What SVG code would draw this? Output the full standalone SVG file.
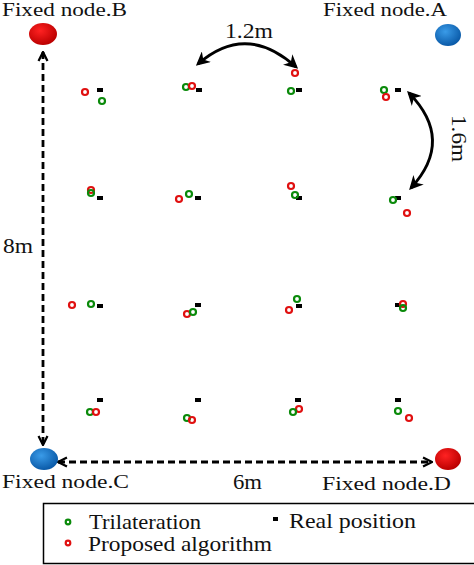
<svg xmlns="http://www.w3.org/2000/svg" width="474" height="565" viewBox="0 0 474 565">
<defs>
<radialGradient id="gr" cx="40%" cy="35%" r="65%"><stop offset="0" stop-color="#f22"/><stop offset="1" stop-color="#b00"/></radialGradient>
<radialGradient id="gb" cx="40%" cy="35%" r="65%"><stop offset="0" stop-color="#3a9be8"/><stop offset="1" stop-color="#0a5aa8"/></radialGradient>
<marker id="ah" viewBox="0 0 10 10" refX="9" refY="5" markerWidth="4" markerHeight="4" orient="auto-start-reverse" markerUnits="strokeWidth"><path d="M1,1 L9,5 L1,9" fill="none" stroke="#000" stroke-width="2"/></marker>
<marker id="ch" viewBox="0 0 10 10" refX="8" refY="5" markerWidth="5" markerHeight="5" orient="auto-start-reverse" markerUnits="strokeWidth"><path d="M0,0 L10,5 L0,10 L3,5 Z" fill="#000"/></marker>
</defs>
<style>
text{font-family:"Liberation Serif","Times New Roman",serif;font-size:18px;fill:#111}
.lg{font-size:21px}
.dim{font-size:21px}
.g{fill:none;stroke:#0a8a0a;stroke-width:2.2}
.r{fill:none;stroke:#e01010;stroke-width:2.2}
.k{fill:#000}
.dash{fill:none;stroke:#000;stroke-width:2.8;stroke-dasharray:7,4}
.curve{fill:none;stroke:#000;stroke-width:2.8}
</style>
<rect width="474" height="565" fill="#fff"/>
<g id="connectors">
<line class="dash" x1="43" y1="52" x2="43" y2="445" marker-start="url(#ah)" marker-end="url(#ah)"/>
<line class="dash" x1="58" y1="462" x2="432" y2="462" marker-start="url(#ah)" marker-end="url(#ah)"/>
<path class="curve" d="M198,64 Q246,22 296,67" marker-start="url(#ch)" marker-end="url(#ch)"/>
<path class="curve" d="M409,93 Q455,140 411,188" marker-start="url(#ch)" marker-end="url(#ch)"/>
</g>
<g id="nodeB"><ellipse cx="43" cy="34" rx="14" ry="11" fill="url(#gr)"/><text x="2" y="16" textLength="125" lengthAdjust="spacingAndGlyphs">Fixed node.B</text></g>
<g id="nodeA"><ellipse cx="448" cy="35" rx="13" ry="11" fill="url(#gb)"/><text x="323" y="16" textLength="124" lengthAdjust="spacingAndGlyphs">Fixed node.A</text></g>
<g id="nodeC"><ellipse cx="44" cy="459" rx="14" ry="11" fill="url(#gb)"/><text x="2" y="488" textLength="127" lengthAdjust="spacingAndGlyphs">Fixed node.C</text></g>
<g id="nodeD"><ellipse cx="448" cy="459" rx="13" ry="11" fill="url(#gr)"/><text x="322" y="490" textLength="129" lengthAdjust="spacingAndGlyphs">Fixed node.D</text></g>
<g id="labels">
<text class="dim" x="225" y="38" textLength="48" lengthAdjust="spacingAndGlyphs">1.2m</text>
<text class="dim" x="3" y="253" textLength="30" lengthAdjust="spacingAndGlyphs">8m</text>
<text class="dim" x="233" y="489" textLength="29" lengthAdjust="spacingAndGlyphs">6m</text>
<text class="dim" transform="translate(452,115) rotate(90)" textLength="47" lengthAdjust="spacingAndGlyphs">1.6m</text>
</g>
<g id="points">
<rect class="k" x="97" y="88" width="6" height="4"/><rect class="k" x="196" y="88" width="6" height="4"/><rect class="k" x="296" y="88" width="6" height="4"/><rect class="k" x="395" y="88" width="6" height="4"/>
<rect class="k" x="97" y="196" width="6" height="4"/><rect class="k" x="195" y="196" width="6" height="4"/><rect class="k" x="296" y="196" width="6" height="4"/><rect class="k" x="395" y="196" width="6" height="4"/>
<rect class="k" x="97" y="304" width="6" height="4"/><rect class="k" x="195" y="303" width="6" height="4"/><rect class="k" x="296" y="304" width="6" height="4"/><rect class="k" x="395" y="303" width="6" height="4"/>
<rect class="k" x="97" y="398" width="6" height="4"/><rect class="k" x="195" y="398" width="6" height="4"/><rect class="k" x="295" y="398" width="6" height="4"/><rect class="k" x="395" y="398" width="6" height="4"/>
<circle class="r" cx="85" cy="92" r="3"/><circle class="g" cx="102" cy="101" r="3"/>
<circle class="g" cx="186" cy="87" r="3"/><circle class="r" cx="192" cy="86" r="3"/>
<circle class="r" cx="295" cy="73" r="3"/><circle class="g" cx="291" cy="91" r="3"/>
<circle class="g" cx="384" cy="90" r="3"/><circle class="r" cx="386" cy="97" r="3"/>
<circle class="r" cx="91" cy="190" r="3"/><circle class="g" cx="91" cy="193" r="3"/>
<circle class="r" cx="179" cy="199" r="3"/><circle class="g" cx="189" cy="194" r="3"/>
<circle class="r" cx="291" cy="186" r="3"/><circle class="g" cx="295" cy="195" r="3"/>
<circle class="g" cx="393" cy="200" r="3"/><circle class="r" cx="407" cy="213" r="3"/>
<circle class="r" cx="72" cy="305" r="3"/><circle class="g" cx="91" cy="304" r="3"/>
<circle class="r" cx="187" cy="314" r="3"/><circle class="g" cx="193" cy="312" r="3"/>
<circle class="g" cx="297" cy="299" r="3"/><circle class="r" cx="289" cy="310" r="3"/>
<circle class="r" cx="403" cy="304" r="3"/><circle class="g" cx="403" cy="308" r="3"/>
<circle class="g" cx="90" cy="412" r="3"/><circle class="r" cx="96" cy="412" r="3"/>
<circle class="g" cx="187" cy="418" r="3"/><circle class="r" cx="192" cy="420" r="3"/>
<circle class="r" cx="299" cy="409" r="3"/><circle class="g" cx="293" cy="412" r="3"/>
<circle class="g" cx="398" cy="411" r="3"/><circle class="r" cx="409" cy="418" r="3"/>
</g>
<g id="legend">
<rect x="43.5" y="503.5" width="440" height="60" fill="none" stroke="#000" stroke-width="1.5"/>
<circle class="g" cx="68" cy="522" r="2.3"/><text class="lg" x="89" y="529" textLength="112" lengthAdjust="spacingAndGlyphs">Trilateration</text>
<rect class="k" x="273" y="517" width="5" height="4"/><text class="lg" x="289" y="528" textLength="127" lengthAdjust="spacingAndGlyphs">Real position</text>
<circle class="r" cx="68" cy="543" r="2.3"/><text class="lg" x="88" y="551" textLength="184" lengthAdjust="spacingAndGlyphs">Proposed algorithm</text>
</g>
</svg>
